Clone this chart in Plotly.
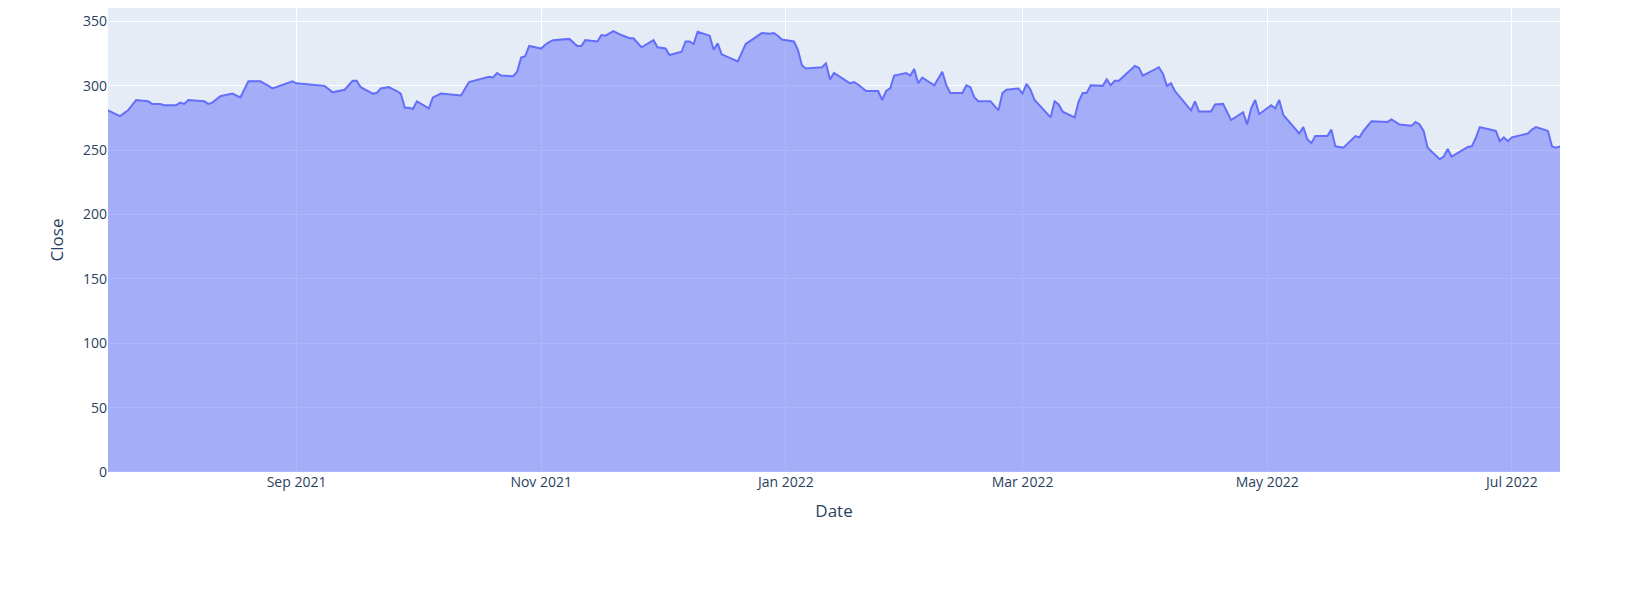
import pandas as pd
import plotly.graph_objects as go

start_date = "2021-07-16"

# trading days since start_date
day_offsets = [0, 3, 5, 7, 10, 11, 13, 14, 17, 18, 19, 20, 24, 25, 26, 28, 31, 33, 35, 38,
               40, 41, 46, 47, 54, 56, 59, 61, 62, 63, 66, 67, 68, 70, 72, 73, 74, 75, 76, 77,
               80, 81, 83, 87, 88, 90, 95, 96, 97, 98, 101, 102, 103, 104, 105, 108, 109, 110, 111, 115,
               116, 117, 118, 119, 122, 123, 124, 126, 128, 130, 131, 133, 136, 137, 139, 140, 143, 144, 145, 146,
               147, 150, 151, 152, 153, 157, 159, 160, 163, 165, 166, 167, 168, 171, 172, 173, 174, 178, 179, 180,
               181, 185, 186, 187, 189, 192, 193, 194, 195, 196, 199, 200, 201, 202, 203, 206, 208, 209, 210, 213,
               214, 215, 216, 217, 220, 222, 223, 224, 227, 228, 229, 230, 231, 235, 236, 237, 238, 241, 242, 243,
               244, 245, 248, 249, 250, 251, 252, 255, 256, 257, 258, 262, 263, 264, 265, 266, 270, 271, 272, 275,
               276, 278, 280, 283, 284, 285, 286, 287, 290, 291, 292, 293, 297, 298, 299, 300, 301, 304, 305, 306,
               308, 311, 312, 313, 315, 319, 320, 322, 325, 326, 327, 328, 329, 332, 333, 334, 335, 339, 340, 341,
               342, 346, 347, 348, 349, 350, 354, 355, 356, 359, 360, 361, 362]

close = [281, 276.5, 281, 289, 288, 286, 286, 285, 285, 287, 286, 289, 288, 286, 287, 292, 294, 291, 303.5, 303.5,
         300, 298, 303.5, 302, 300, 295, 297, 304, 304, 299, 294, 294.5, 298, 299, 296, 294, 283, 283, 282, 288,
         282.5, 291, 294, 293, 292.5, 303, 307, 306.5, 310, 308, 307.5, 311, 322, 323, 331, 329, 332, 334, 335.5, 336.5,
         334, 331, 331, 335.5, 334.5, 339.5, 339, 342.5, 339.5, 337, 337, 330, 335.5, 330, 329, 324, 326.5, 334.5, 334.5, 332.5,
         342, 339, 328, 333, 324.5, 319, 332.5, 334.5, 341, 340.5, 341, 339, 336, 334.5, 328, 316, 313.5, 314.5, 317.5, 305,
         310, 302, 303, 301, 296, 296, 289, 296, 298, 308, 310, 308, 313, 302, 306.5, 300.5, 311, 300.5, 294.5, 294.5,
         300.5, 299, 291, 288, 288, 281, 294.5, 297, 298, 294, 301.5, 297, 289, 275.5, 288, 285.5, 280, 275.5, 288, 294.5,
         294.5, 300.5, 300, 305, 300.5, 304, 304, 312.5, 315.5, 314, 308, 314.5, 309.5, 300, 302, 296, 281, 288, 280, 280,
         285.5, 286, 273.5, 279.5, 270, 282.5, 289, 278, 285, 282.5, 289, 277.5, 263, 268, 258.5, 255.5, 261, 261, 266, 253,
         252, 261, 260, 265, 272.5, 272, 274, 270, 269, 272, 270, 265, 252, 243, 245, 251, 245, 252.5, 253, 259.5,
         268, 265, 257, 260, 257, 260, 263, 266, 268, 265, 253, 252, 253]

dates = pd.to_datetime(start_date) + pd.to_timedelta(day_offsets, unit="D")

fig = go.Figure()
fig.add_trace(go.Scatter(
    x=dates,
    y=close,
    mode="lines",
    fill="tozeroy",
    line=dict(color="#636efa", width=2),
))
fig.update_layout(
    template="plotly",
    margin=dict(l=100, r=84, t=0, b=114),
    font=dict(size=14),
    xaxis=dict(title=dict(text="Date"), dtick="M2", tickformat="%b %Y"),
    yaxis=dict(title=dict(text="Close"), range=[0, 360.5], dtick=50),
    showlegend=False,
)
fig.write_html("out.html", default_width="100%", default_height="100%")
